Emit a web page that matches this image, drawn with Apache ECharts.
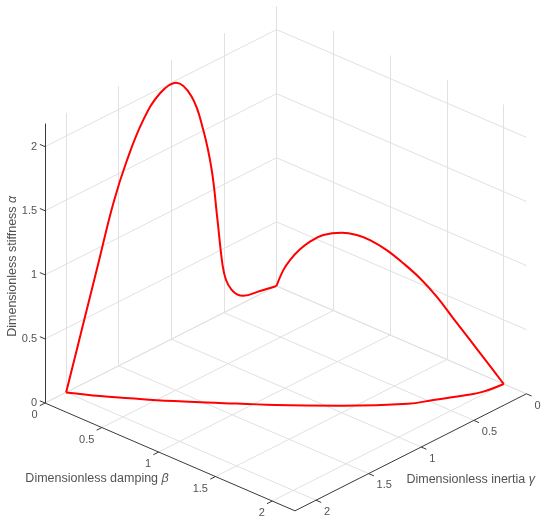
<!DOCTYPE html>
<html>
<head>
<meta charset="utf-8">
<script src="https://cdn.jsdelivr.net/npm/echarts@6/dist/echarts.min.js"></script>
<style>
html,body{margin:0;padding:0;background:#ffffff;}
#chart{width:550px;height:522px;}
</style>
</head>
<body>
<div id="chart"></div>
<script>
// ---- axis ranges and ticks ----
const betaRange = [0, 2.2];
const gammaRange = [0, 2.2];
const alphaRange = [0, 2.18];
const tickValues = [0, 0.5, 1, 1.5, 2];
const tickLabels = ['0', '0.5', '1', '1.5', '2'];

// ---- boundary on the beta = 0 plane (gamma, alpha) ----
const c1Gamma = [2.0, 1.837, 1.694, 1.551, 1.424, 1.266, 1.107, 0.955, 0.806, 0.696, 0.616, 0.561, 0.513, 0.480, 0.426, 0.375, 0.316, 0.157, 0];
const c1Alpha = [0, 0.467, 0.878, 1.289, 1.566, 1.821, 1.963, 1.982, 1.811, 1.506, 1.161, 0.748, 0.377, 0.246, 0.146, 0.091, 0.055, 0.026, 0];

// ---- boundary on the gamma = 0 plane (beta, alpha) ----
const c2Beta  = [0, 0.060, 0.119, 0.207, 0.295, 0.412, 0.574, 0.706, 0.823, 0.970, 1.116, 1.263, 1.410, 1.556, 1.703, 1.850, 2.0];
const c2Alpha = [0, 0.147, 0.248, 0.365, 0.459, 0.555, 0.635, 0.668, 0.673, 0.651, 0.604, 0.543, 0.456, 0.343, 0.230, 0.117, 0];

// ---- boundary on the alpha = 0 plane (beta, gamma) ----
const c3Beta  = [0, 0.195, 0.359, 0.505, 0.804, 1.111, 1.434, 1.731, 1.816, 1.928, 1.975, 2.0];
const c3Gamma = [2.0, 1.888, 1.780, 1.684, 1.453, 1.214, 0.929, 0.620, 0.470, 0.273, 0.167, 0];

// ---- orthographic view: screen components of each data axis ----
const view = { bx: 113.6, by: 49.0, gx: -105.2, gy: 53.2, az: 128.2 };
function P(b, g, a) {
  return [b * view.bx + g * view.gx, a * view.az - b * view.by - g * view.gy];
}

const bMax = betaRange[1], gMax = gammaRange[1], aMax = alphaRange[1];
const FONT = "'Liberation Sans', Arial, Helvetica, sans-serif";
const TXT = '#262626';

// grid lines on floor and the two back walls
const gridSegs = [];
tickValues.forEach(v => {
  gridSegs.push({ coords: [P(v, 0, 0), P(v, gMax, 0)] });
  gridSegs.push({ coords: [P(0, v, 0), P(bMax, v, 0)] });
  gridSegs.push({ coords: [P(0, v, 0), P(0, v, aMax)] });
  gridSegs.push({ coords: [P(v, 0, 0), P(v, 0, aMax)] });
  gridSegs.push({ coords: [P(0, 0, v), P(0, gMax, v)] });
  gridSegs.push({ coords: [P(0, 0, v), P(bMax, 0, v)] });
});

// axis lines and ticks
const tb = 0.046, tg = 0.05;
const axisSegs = [
  { coords: [P(0, gMax, 0), P(0, gMax, aMax)] },
  { coords: [P(0, gMax, 0), P(bMax, gMax, 0)] },
  { coords: [P(bMax, 0, 0), P(bMax, gMax, 0)] }
];
tickValues.forEach(v => {
  axisSegs.push({ coords: [P(0, gMax, v), P(-tb, gMax, v)] });
  axisSegs.push({ coords: [P(v, gMax, 0), P(v, gMax + tg, 0)] });
  axisSegs.push({ coords: [P(bMax, v, 0), P(bMax + tb, v, 0)] });
});

const curve1 = c1Gamma.map((g, i) => P(0, g, c1Alpha[i]));
const curve2 = c2Beta.map((b, i) => P(b, 0, c2Alpha[i]));
const curve3 = c3Beta.map((b, i) => P(b, c3Gamma[i], 0));

function labelSeries(data, label) {
  return {
    type: 'scatter', symbolSize: 0, silent: true, z: 5,
    data: data,
    label: Object.assign({
      show: true, color: TXT, fontFamily: FONT, fontSize: 11,
      formatter: p => p.data[2]
    }, label)
  };
}

const alphaTickData = tickValues.map((v, i) => P(0, gMax, v).concat([tickLabels[i]]));
const betaTickData = tickValues.map((v, i) => P(v, gMax, 0).concat([tickLabels[i]]));
const gammaTickData = tickValues.map((v, i) => P(bMax, v, 0).concat([tickLabels[i]]));

const titleRich = {
  n: { fontFamily: FONT, fontSize: 12.5, color: TXT },
  g: { fontFamily: FONT, fontSize: 12.5, color: TXT, fontStyle: 'italic' }
};

function curveSeries(data) {
  return { type: 'line', data: data, smooth: 0.4, showSymbol: false,
    silent: true, z: 3, lineStyle: { color: '#ff0000', width: 2 } };
}

const chart = echarts.init(document.getElementById('chart'), null, { renderer: 'canvas' });
chart.setOption({
  animation: false,
  backgroundColor: '#ffffff',
  grid: { left: 0, right: 0, top: 0, bottom: 0 },
  xAxis: { type: 'value', min: -276.5, max: 273.5, show: false },
  yAxis: { type: 'value', min: -236, max: 286, show: false },
  series: [
    { type: 'lines', coordinateSystem: 'cartesian2d', polyline: false, silent: true, z: 1,
      lineStyle: { color: '#e1e1e1', width: 1, opacity: 1, curveness: 0 }, data: gridSegs },
    { type: 'lines', coordinateSystem: 'cartesian2d', polyline: false, silent: true, z: 2,
      lineStyle: { color: '#3a3a3a', width: 1, opacity: 1, curveness: 0 }, data: axisSegs },
    curveSeries(curve1),
    curveSeries(curve2),
    curveSeries(curve3),
    labelSeries(alphaTickData, { position: [-8, 0], align: 'right', verticalAlign: 'middle' }),
    labelSeries(betaTickData, { position: [-7.5, 12], align: 'right', verticalAlign: 'middle' }),
    labelSeries(gammaTickData, { position: [8, 11.7], align: 'left', verticalAlign: 'middle' }),
    labelSeries([P(0, gMax, aMax / 2).concat(['a'])], {
      position: [-33, 3], align: 'center', verticalAlign: 'middle', rotate: 90,
      formatter: '{n|Dimensionless stiffness }{g|α}', rich: titleRich }),
    labelSeries([P(bMax / 2, gMax, 0).concat(['b'])], {
      position: [-73, 22], align: 'center', verticalAlign: 'middle',
      formatter: '{n|Dimensionless damping }{g|β}', rich: titleRich }),
    labelSeries([P(bMax, gMax / 2, 0).concat(['g'])], {
      position: [60, 27], align: 'center', verticalAlign: 'middle',
      formatter: '{n|Dimensionless inertia }{g|γ}', rich: titleRich })
  ]
});
</script>
</body>
</html>
